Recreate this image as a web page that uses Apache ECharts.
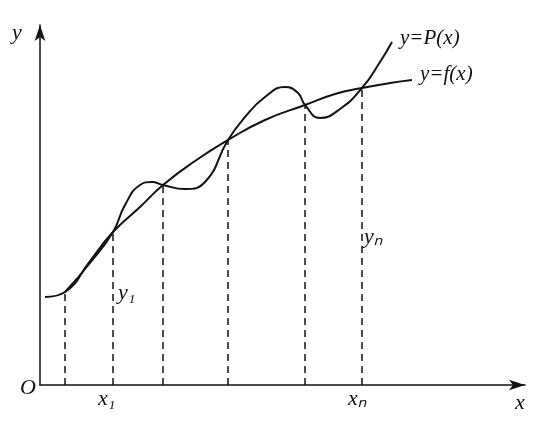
<!DOCTYPE html>
<html><head><meta charset="utf-8">
<script src="https://cdn.jsdelivr.net/npm/echarts@6/dist/echarts.min.js"></script>
<style>body{margin:0;background:#fff}#c{width:550px;height:428px}</style>
</head><body><div id="c"></div>
<script>
// f(x) 曲线
var fCurve = [[5,88],[25,93],[50,124],[73,153],[100,178],[123,200],[155,224],[188,245],[225,265],[265,280],[295,291],[322,297],[350,302],[372,305]];
// 插值多项式 P(x)
var pCurve = [[25,93],[50,122],[73,153],[85,180],[100,200],[112,203],[123,200],[145,196],[165,203],[188,245],[205,268],[225,288],[245,298],[258,292],[265,280],[280,267],[300,276],[322,297],[340,323],[352,343]];
// 插值节点
var nodes = [25,73,123,188,265,322];

function fAt(x) {
    for (var i = 0; i < fCurve.length - 1; i++) {
        var a = fCurve[i], b = fCurve[i + 1];
        if (x >= a[0] && x <= b[0]) return a[1] + (b[1] - a[1]) * (x - a[0]) / (b[0] - a[0]);
    }
    return 0;
}

var chart = echarts.init(document.getElementById('c'));
var series = [
    { type: 'line', data: fCurve, smooth: true, symbol: 'none', lineStyle: { color: '#111', width: 2 } },
    { type: 'line', data: pCurve, smooth: true, symbol: 'none', lineStyle: { color: '#111', width: 2 } }
];
nodes.forEach(function (x) {
    series.push({ type: 'line', data: [[x, 0], [x, fAt(x)]], symbol: 'none',
        lineStyle: { color: '#111', width: 1.5, type: [7, 5] } });
});

var txt = function (l, t, s, size) {
    return { type: 'text', left: l, top: t, style: { text: s, font: 'italic ' + (size || 22) + 'px "Liberation Serif", serif', fill: '#111' } };
};

chart.setOption({
    animation: false,
    grid: { left: 40, right: 25, top: 25, bottom: 43 },
    xAxis: { type: 'value', min: 0, max: 485, axisLine: { lineStyle: { color: '#111', width: 1.5 }, symbol: ['none', 'arrow'], symbolSize: [8, 16] },
        axisTick: { show: false }, axisLabel: { show: false }, splitLine: { show: false } },
    yAxis: { type: 'value', min: 0, max: 360, axisLine: { show: true, lineStyle: { color: '#111', width: 1.5 }, symbol: ['none', 'arrow'], symbolSize: [8, 16] },
        axisTick: { show: false }, axisLabel: { show: false }, splitLine: { show: false } },
    series: series,
    graphic: [
        txt(12, 22, 'y'), txt(20, 377, 'O'), txt(515, 392, 'x'),
        txt(98, 388, 'x₁'), txt(348, 388, 'xₙ'),
        txt(118, 282, 'y₁'), txt(364, 226, 'yₙ'),
        txt(400, 28, 'y=P(x)', 21), txt(420, 64, 'y=f(x)', 21)
    ]
});
</script></body></html>
